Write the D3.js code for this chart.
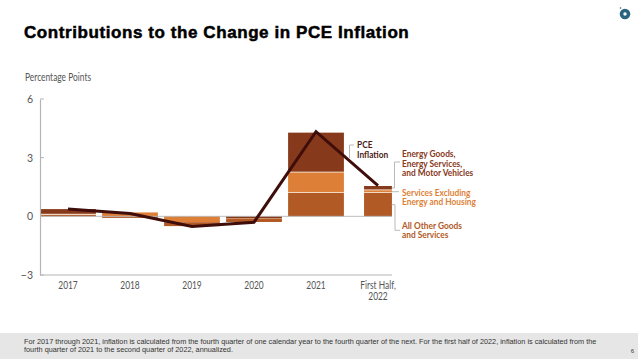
<!DOCTYPE html>
<html lang="en">
<head>
<meta charset="UTF-8">
<title>Contributions to the Change in PCE Inflation</title>
<script src="https://d3js.org/d3.v7.min.js"></script>
<style>
    html, body { margin: 0; padding: 0; background: #fff; }
    svg { display: block; }
    text { font-family: Lato, sans-serif; }
    .title { font-family: "Liberation Sans", sans-serif; font-weight: 700; font-size: 17px; letter-spacing: .58px; stroke: #000; stroke-width: .5px; }
    .note { font-family: "Liberation Sans", sans-serif; font-size: 7.3px; fill: #333; }
    .tick-label { font-size: 10.5px; fill: #555; }
    .lab { font-size: 9.6px; font-weight: 700; }
</style>
</head>
<body>
<div id="chart"></div>
<script>
// values, percentage points
var categories = ["2017", "2018", "2019", "2020", "2021", "2022"];
var categoryLabels = [["2017"], ["2018"], ["2019"], ["2020"], ["2021"], ["First Half,", "2022"]];
var otherGoods = [0.1, -0.08, -0.2, -0.17, 1.22, 1.22];
var services = [0, 0.2, -0.3, -0.02, 1.04, 0.13];
var energy = [0.27, 0, 0, -0.1, 2.02, 0.2];
var pce = [0.37, 0.14, -0.52, -0.3, 4.33, 1.57];
var yTicks = [-3, 0, 3, 6];
var upKeys = ["otherGoods", "services", "energy"];
var downKeys = ["energy", "services", "otherGoods"];
var seriesColors = { otherGoods: "#b25a26", services: "#de7f38", energy: "#873a1b" };

var width = 638, height = 359;
var narrow = 0.8;
var svg = d3.select("#chart").append("svg").attr("width", width).attr("height", height);

var x = d3.scaleBand().domain(categories).range([37, 409]).paddingInner(0.1).paddingOuter(0.05);
var y = d3.scaleLinear().domain([-3, 6]).range([275, 99]);

var rows = categories.map(function(c, i) {
    return { cat: c, otherGoods: otherGoods[i], services: services[i], energy: energy[i] };
});
// positives build up from zero, negatives stack in their own order
var upStack = d3.stack().keys(upKeys).value(function(d, k) { return Math.max(d[k], 0); })(rows);
var downStack = d3.stack().keys(downKeys).value(function(d, k) { return Math.min(d[k], 0); })(rows);

svg.append("text").attr("class", "title").attr("x", 24).attr("y", 38)
    .text("Contributions to the Change in PCE Inflation");
svg.append("text").attr("transform", "translate(25,81) scale(" + narrow + ",1)")
    .attr("font-size", 10.5).attr("fill", "#555").text("Percentage Points");

function barX(d) {
    return x(d.data.cat) + (d.data.cat == "2022" ? x.bandwidth() / 4 : 0);
}
function barW(d) {
    return d.data.cat == "2022" ? x.bandwidth() / 2 : x.bandwidth();
}

// stacked bars, the half year one is half as wide
upStack.concat(downStack).forEach(function(s) {
    svg.selectAll(null).data(s).enter().append("rect")
        .attr("x", barX)
        .attr("width", barW)
        .attr("y", function(d) { return y(Math.max(d[0], d[1])); })
        .attr("height", function(d) { return Math.abs(y(d[0]) - y(d[1])); })
        .attr("fill", seriesColors[s.key]);
});

// pale separators between the upward segments
upStack.slice(0, 2).forEach(function(s) {
    svg.selectAll(null).data(s.filter(function(d) { return d[1] > 0 && d.data.energy > 0; })).enter().append("line")
        .attr("x1", barX)
        .attr("x2", function(d) { return barX(d) + barW(d); })
        .attr("y1", function(d) { return y(d[1]); })
        .attr("y2", function(d) { return y(d[1]); })
        .attr("stroke", "#f3d9c4").attr("stroke-width", 1);
});

// axes
var yAxis = d3.axisLeft(y).tickValues(yTicks).tickSize(0).tickPadding(7)
    .tickFormat(function(d) { return d < 0 ? "\u2212" + Math.abs(d) : d; });
var yg = svg.append("g").attr("transform", "translate(40,0)").call(yAxis);
yg.select(".domain").attr("stroke", "#b5b5b5").attr("stroke-width", 1.2);
yg.selectAll(".tick text").attr("class", "tick-label").attr("font-size", null).attr("font-family", null);
svg.selectAll(null).data(yTicks).enter().append("line")
    .attr("x1", 40).attr("x2", 44).attr("y1", y).attr("y2", y)
    .attr("stroke", "#b5b5b5").attr("stroke-width", 1);
svg.append("line").attr("x1", 40).attr("x2", 392).attr("y1", y(0)).attr("y2", y(0))
    .attr("stroke", "#b5b5b5").attr("stroke-width", 0.9);
svg.append("line").attr("x1", 40).attr("x2", 392).attr("y1", y(-3)).attr("y2", y(-3))
    .attr("stroke", "#b5b5b5").attr("stroke-width", 1.2);

var catLabels = svg.selectAll(null).data(categories).enter().append("text")
    .attr("class", "tick-label").attr("text-anchor", "middle")
    .attr("transform", function(d) { return "translate(" + (x(d) + x.bandwidth() / 2) + ",289) scale(" + narrow + ",1)"; });
catLabels.selectAll("tspan").data(function(d, i) { return categoryLabels[i]; }).enter().append("tspan")
    .attr("x", 0).attr("dy", function(d, i) { return i ? 11.5 : 0; }).text(function(d) { return d; });

// inflation line
var line = d3.line()
    .x(function(d, i) { return x(categories[i]) + x.bandwidth() / 2; })
    .y(function(d) { return y(d); });
svg.append("path").datum(pce).attr("d", line).attr("fill", "none")
    .attr("stroke", "#3f0d0a").attr("stroke-width", 3);

// direct labels and their leader lines
function label(lines, lx, ly, color) {
    var t = svg.append("text").attr("class", "lab")
        .attr("transform", "translate(" + lx + "," + ly + ") scale(0.87,1)")
        .attr("fill", color);
    lines.forEach(function(s, i) {
        t.append("tspan").attr("x", 0).attr("dy", i ? 9.4 : 0).text(s);
    });
}
function leader(path) {
    svg.append("path").attr("d", path).attr("fill", "none").attr("stroke", "#a8a8a8").attr("stroke-width", 0.8);
}
label(["PCE", "Inflation"], 357, 148.3, "#4a1c14");
label(["Energy Goods,", "Energy Services,", "and Motor Vehicles"], 402, 157.3, "#873a1b");
label(["Services Excluding", "Energy and Housing"], 402, 195.7, "#de7f38");
label(["All Other Goods", "and Services"], 402, 229, "#b25a26");
leader("M354,145H349.5V158");
leader("M400,162H394.5V188H391.5");
leader("M391.5,191.7H399");
leader("M391.5,204.7H395V230.3H400");

// footer band
svg.append("rect").attr("x", 0).attr("y", 333).attr("width", width).attr("height", 26).attr("fill", "#e6e6e6");
svg.append("text").attr("class", "note").attr("x", 24).attr("y", 344)
    .text("For 2017 through 2021, inflation is calculated from the fourth quarter of one calendar year to the fourth quarter of the next. For the first half of 2022, inflation is calculated from the");
svg.append("text").attr("class", "note").attr("x", 24).attr("y", 352)
    .text("fourth quarter of 2021 to the second quarter of 2022, annualized.");
svg.append("text").attr("class", "note").attr("x", 634).attr("y", 353).attr("text-anchor", "end")
    .style("font-size", "6px").text("6");

// logo mark top right
svg.append("circle").attr("cx", 625).attr("cy", 14).attr("r", 3.5).attr("fill", "none")
    .attr("stroke", "#2a6480").attr("stroke-width", 3.6);
svg.append("circle").attr("cx", 620.5).attr("cy", 8).attr("r", 0.8).attr("fill", "#2a6480");
</script>
</body>
</html>
